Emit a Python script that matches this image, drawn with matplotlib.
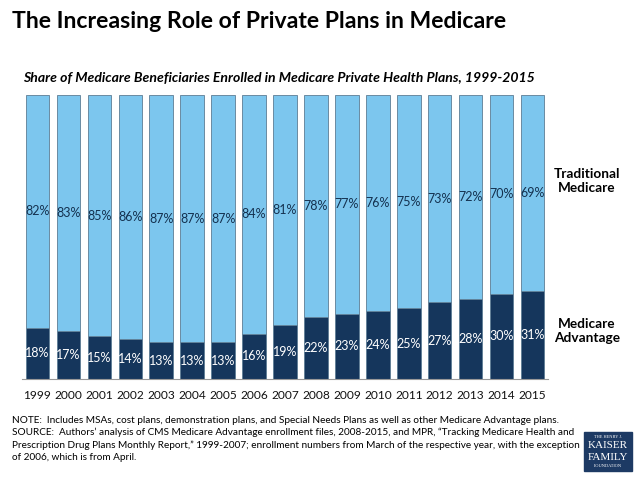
import matplotlib
matplotlib.use("Agg")
import matplotlib.pyplot as plt
from matplotlib.patches import Rectangle

years = ["1999", "2000", "2001", "2002", "2003", "2004", "2005", "2006", "2007",
         "2008", "2009", "2010", "2011", "2012", "2013", "2014", "2015"]
advantage = [18, 17, 15, 14, 13, 13, 13, 16, 19, 22, 23, 24, 25, 27, 28, 30, 31]
traditional = [82, 83, 85, 86, 87, 87, 87, 84, 81, 78, 77, 76, 75, 73, 72, 70, 69]

FONT = ["Lato", "DejaVu Sans"]
W, H = 638, 478
fig = plt.figure(figsize=(W / 100, H / 100), dpi=100)

LIGHT = "#7cc6ee"
DARK = "#15365c"

ax = fig.add_axes([22 / W, 1 - 379 / H, (548 - 22) / W, (379 - 95) / H])
x = list(range(len(years)))
ax.bar(x, advantage, width=0.76, color=DARK, edgecolor="#5d7d95", linewidth=0.6)
ax.bar(x, traditional, bottom=advantage, width=0.76, color=LIGHT, edgecolor="#5d7d95", linewidth=0.6)
ax.set_xlim(-0.5, len(years) - 0.5)
ax.set_ylim(0, 100)
for s in ["top", "right", "left"]:
    ax.spines[s].set_visible(False)
ax.spines["bottom"].set_color("#999999")
ax.set_yticks([])
ax.set_xticks(x)
ax.set_xticklabels(years, fontsize=8.6, family=FONT, color="#111111")
ax.tick_params(axis="x", length=0, pad=8)

for i in x:
    a, t = advantage[i], traditional[i]
    ax.text(i, a / 2, f"{a}%", ha="center", va="center", color="white", fontsize=9, family=FONT)
    ax.text(i, a + t / 2, f"{t}%", ha="center", va="center", color="#14314f", fontsize=9, family=FONT)

fig.text(12 / W, 1 - 22 / H, "The Increasing Role of Private Plans in Medicare",
         fontsize=16.6, fontweight="bold", family=FONT, va="center", ha="left", color="black")
fig.text(23 / W, 1 - 78 / H,
         "Share of Medicare Beneficiaries Enrolled in Medicare Private Health Plans, 1999-2015",
         fontsize=10.1, fontweight="bold", style="italic", family=FONT, va="center", ha="left")

fig.text(587 / W, 1 - 181 / H, "Traditional\nMedicare", fontsize=9.8, fontweight="bold",
         family=FONT, ha="center", va="center", linespacing=1.25)
fig.text(587 / W, 1 - 331 / H, "Medicare\nAdvantage", fontsize=9.8, fontweight="bold",
         family=FONT, ha="center", va="center", linespacing=1.25)

note = ("NOTE:  Includes MSAs, cost plans, demonstration plans, and Special Needs Plans as well as other Medicare Advantage plans.\n"
        "SOURCE:  Authors\u2019 analysis of CMS Medicare Advantage enrollment files, 2008-2015, and MPR, \u201cTracking Medicare Health and\n"
        "Prescription Drug Plans Monthly Report,\u201d 1999-2007; enrollment numbers from March of the respective year, with the exception\n"
        "of 2006, which is from April.")
fig.text(12 / W, 1 - 416 / H, note, fontsize=7.2, family=FONT, ha="left", va="top", linespacing=1.4)

# logo
lx0, ly0, lw, lh = 584, 432, 48, 39
fig.patches.append(Rectangle((lx0 / W, 1 - (ly0 + lh) / H), lw / W, lh / H,
                             transform=fig.transFigure, color="#1d3a64", zorder=5))
cx = (lx0 + lw / 2) / W
fig.text(cx, 1 - 437 / H, "THE HENRY J.", fontsize=3.2, color="white", ha="center", va="center",
         family="Liberation Serif", zorder=6)
fig.text(cx, 1 - 446 / H, "KAISER", fontsize=8, color="white", ha="center", va="center",
         family="Liberation Serif", zorder=6)
fig.text(cx, 1 - 457 / H, "FAMILY", fontsize=8, color="white", ha="center", va="center",
         family="Liberation Serif", zorder=6)
fig.text(cx, 1 - 466 / H, "FOUNDATION", fontsize=3.2, color="white", ha="center", va="center",
         family="Liberation Serif", zorder=6)

fig.savefig("out.png", dpi=100)
